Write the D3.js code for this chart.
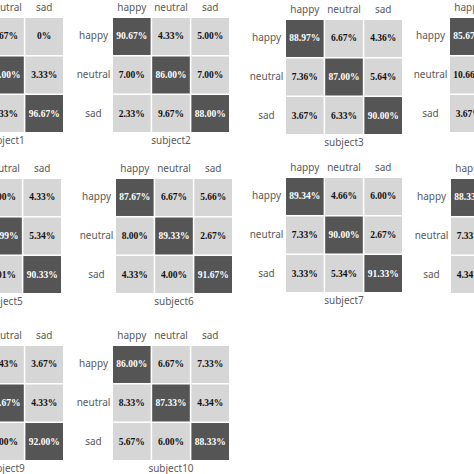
<!DOCTYPE html>
<html>
<head>
<meta charset="utf-8">
<script src="https://cdn.jsdelivr.net/npm/d3@7"></script>
<style>
  body { margin: 0; background: #fff; }
  svg { display: block; }
</style>
</head>
<body>
<div id="my_dataviz"></div>
<script>
// categories
const emotions = ["happy", "neutral", "sad"];
const subjects = ["subject1", "subject2", "subject3", "subject4", "subject5",
                  "subject6", "subject7", "subject8", "subject9", "subject10"];

// confusion matrices (%), rows = true label, cols = predicted
const subject1  = [[96.33, 3.67, 0],     [0.67, 96.00, 3.33],  [0, 3.33, 96.67]];
const subject2  = [[90.67, 4.33, 5.00],  [7.00, 86.00, 7.00],  [2.33, 9.67, 88.00]];
const subject3  = [[88.97, 6.67, 4.36],  [7.36, 87.00, 5.64],  [3.67, 6.33, 90.00]];
const subject4  = [[85.67, 9.00, 5.33],  [10.66, 85.67, 3.67], [3.67, 5.00, 91.33]];
const subject5  = [[89.67, 6.00, 4.33],  [5.67, 88.99, 5.34],  [4.66, 5.01, 90.33]];
const subject6  = [[87.67, 6.67, 5.66],  [8.00, 89.33, 2.67],  [4.33, 4.00, 91.67]];
const subject7  = [[89.34, 4.66, 6.00],  [7.33, 90.00, 2.67],  [3.33, 5.34, 91.33]];
const subject8  = [[88.33, 6.67, 5.00],  [7.33, 88.67, 4.00],  [4.34, 4.33, 91.33]];
const subject9  = [[92.90, 3.43, 3.67],  [4.00, 91.67, 4.33],  [4.00, 4.00, 92.00]];
const subject10 = [[86.00, 6.67, 7.33],  [8.33, 87.33, 4.34],  [5.67, 6.00, 88.33]];

const matrices = [subject1, subject2, subject3, subject4, subject5,
                  subject6, subject7, subject8, subject9, subject10];

// where each panel's grid sits on the page (the source is a pasted figure)
const panelX = [-53, 113, 286, 450, -55, 116, 286, 451, -53, 113];
const panelY = [18, 18, 20, 18, 179, 179, 178, 179, 346, 346];

const W = 474, H = 474;
const gridW = 116, gridH = 114;

const svg = d3.select("#my_dataviz")
  .append("svg")
    .attr("width", W)
    .attr("height", H);

const x = d3.scaleBand()
  .domain(emotions)
  .range([0, gridW])
  .paddingInner(0.04);

const y = d3.scaleBand()
  .domain(emotions)
  .range([0, gridH])
  .paddingInner(0.04);

const fill = d3.scaleThreshold()
  .domain([50])
  .range(["#d6d6d6", "#555555"]);

const textFill = d3.scaleThreshold()
  .domain([50])
  .range(["#111", "#fff"]);

const fmt = v => v === 0 ? "0%" : v.toFixed(2) + "%";

const labelFont = "'Noto Sans', 'Open Sans', sans-serif";
const labelColor = "#5a5a5a";

subjects.forEach(function(name, i) {
  const g = svg.append("g")
    .attr("transform", "translate(" + panelX[i] + "," + panelY[i] + ")");

  const cells = [];
  matrices[i].forEach(function(row, r) {
    row.forEach(function(v, c) {
      cells.push({row: emotions[r], col: emotions[c], value: v});
    });
  });

  g.selectAll("rect")
    .data(cells)
    .enter()
    .append("rect")
      .attr("x", d => x(d.col))
      .attr("y", d => y(d.row))
      .attr("width", x.bandwidth())
      .attr("height", y.bandwidth())
      .style("fill", d => fill(d.value));

  g.selectAll("text.val")
    .data(cells)
    .enter()
    .append("text")
      .attr("class", "val")
      .attr("x", d => x(d.col) + x.bandwidth() / 2)
      .attr("y", d => y(d.row) + y.bandwidth() / 2)
      .attr("text-anchor", "middle")
      .attr("dominant-baseline", "central")
      .style("font-family", "'Liberation Serif', 'Times New Roman', serif")
      .style("font-weight", "bold")
      .style("font-size", "9.5px")
      .style("fill", d => textFill(d.value))
      .text(d => fmt(d.value));

  // column labels on top
  g.selectAll("text.col")
    .data(emotions)
    .enter()
    .append("text")
      .attr("class", "col")
      .attr("x", d => x(d) + x.bandwidth() / 2)
      .attr("y", -11)
      .attr("text-anchor", "middle")
      .attr("dominant-baseline", "central")
      .style("font-family", labelFont)
      .style("font-size", "10px")
      .style("fill", labelColor)
      .text(d => d);

  // row labels on the left
  g.selectAll("text.row")
    .data(emotions)
    .enter()
    .append("text")
      .attr("class", "row")
      .attr("x", -19.5)
      .attr("y", d => y(d) + y.bandwidth() / 2 - 1)
      .attr("text-anchor", "middle")
      .attr("dominant-baseline", "central")
      .style("font-family", labelFont)
      .style("font-size", "10px")
      .style("fill", labelColor)
      .text(d => d);

  // subject name under the grid
  g.append("text")
    .attr("x", gridW / 2)
    .attr("y", gridH + 8)
    .attr("text-anchor", "middle")
    .attr("dominant-baseline", "central")
    .style("font-family", labelFont)
    .style("font-size", "10px")
    .style("fill", labelColor)
    .text(name);
});
</script>
</body>
</html>
